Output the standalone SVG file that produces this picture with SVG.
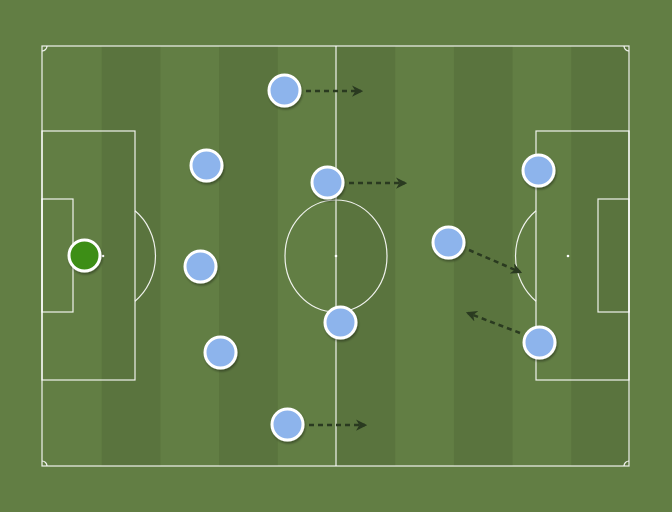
<svg xmlns="http://www.w3.org/2000/svg" width="672" height="512" viewBox="0 0 672 512">
  <defs>
    <marker id="ah" viewBox="0 0 10 10" refX="8" refY="5" markerWidth="4.5" markerHeight="4.5" orient="auto" markerUnits="strokeWidth">
      <path d="M0,0 L10,5 L0,10 L3,5 Z" fill="#2a3a20"/>
    </marker>
    <filter id="sh" x="-30%" y="-30%" width="160%" height="160%">
      <feDropShadow dx="1" dy="2" stdDeviation="1.2" flood-color="#000" flood-opacity="0.35"/>
    </filter>
  </defs>
  <style>
    .ln{fill:none;stroke:#ffffff;stroke-width:1.2;opacity:0.9}
    .dk{fill:#5a743e}
    .pl circle{stroke:#ffffff;stroke-width:3;filter:url(#sh)}
    .blue{fill:#8db4ec}
    .gk{fill:#3d8e15}
    .ar{fill:none;stroke:#2a3a20;stroke-width:2.5;stroke-dasharray:5 4;marker-end:url(#ah)}
  </style>
  <rect x="0" y="0" width="672" height="512" fill="#627e44"/>
  <g id="pitch">
    <rect class="dk" x="101.7" y="46" width="58.7" height="420"/>
    <rect class="dk" x="219.1" y="46" width="58.7" height="420"/>
    <rect class="dk" x="336.5" y="46" width="58.7" height="420"/>
    <rect class="dk" x="453.9" y="46" width="58.7" height="420"/>
    <rect class="dk" x="571.3" y="46" width="58.7" height="420"/>
    <rect class="ln" x="42" y="46" width="587" height="420"/>
    <line class="ln" x1="336" y1="46" x2="336" y2="466"/>
    <ellipse class="ln" cx="336" cy="256" rx="51" ry="56"/>
    <circle cx="336" cy="256" r="1.3" fill="#fff"/>
    <rect class="ln" x="42" y="131" width="93" height="249"/>
    <rect class="ln" x="42" y="199" width="31" height="113"/>
    <circle cx="103" cy="256" r="1.3" fill="#fff"/>
    <path class="ln" d="M135,210.8 A51.2,56.5 0 0 1 135,301.2"/>
    <rect class="ln" x="536" y="131" width="93" height="249"/>
    <rect class="ln" x="598" y="199" width="31" height="113"/>
    <circle cx="568" cy="256" r="1.3" fill="#fff"/>
    <path class="ln" d="M536,210.8 A51.2,56.5 0 0 0 536,301.2"/>
    <path class="ln" d="M42,51 A5,5 0 0 0 47,46"/>
    <path class="ln" d="M624,46 A5,5 0 0 0 629,51"/>
    <path class="ln" d="M42,461 A5,5 0 0 1 47,466"/>
    <path class="ln" d="M624,466 A5,5 0 0 1 629,461"/>
  </g>
  <g id="connectors">
    <line class="ar" x1="306" y1="91" x2="361" y2="91"/>
    <line class="ar" x1="349" y1="183" x2="405" y2="183"/>
    <line class="ar" x1="309" y1="425" x2="365" y2="425"/>
    <line class="ar" x1="469" y1="250" x2="520" y2="272"/>
    <line class="ar" x1="520" y1="333" x2="468" y2="313"/>
  </g>
  <g id="gk" class="pl"><circle class="gk" cx="84.5" cy="255.5" r="15.5"/></g>
  <g id="p1" class="pl"><circle class="blue" cx="284.5" cy="90.5" r="15.5"/></g>
  <g id="p2" class="pl"><circle class="blue" cx="206.5" cy="165.5" r="15.5"/></g>
  <g id="p3" class="pl"><circle class="blue" cx="327.5" cy="182.5" r="15.5"/></g>
  <g id="p4" class="pl"><circle class="blue" cx="538.5" cy="170.5" r="15.5"/></g>
  <g id="p5" class="pl"><circle class="blue" cx="200.5" cy="266.5" r="15.5"/></g>
  <g id="p6" class="pl"><circle class="blue" cx="448.5" cy="242.5" r="15.5"/></g>
  <g id="p7" class="pl"><circle class="blue" cx="340.5" cy="322.5" r="15.5"/></g>
  <g id="p8" class="pl"><circle class="blue" cx="220.5" cy="352.5" r="15.5"/></g>
  <g id="p9" class="pl"><circle class="blue" cx="539.5" cy="342.5" r="15.5"/></g>
  <g id="p10" class="pl"><circle class="blue" cx="287.5" cy="424.5" r="15.5"/></g>
</svg>
